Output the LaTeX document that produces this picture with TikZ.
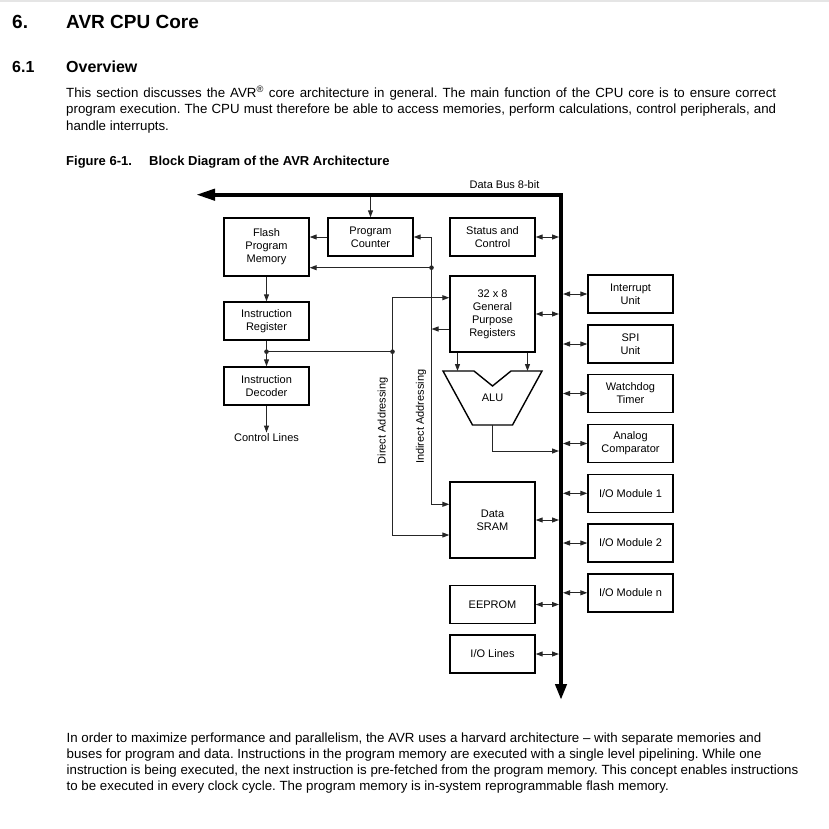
\documentclass[tikz,border=0pt]{standalone}
\usepackage{fontspec}
\setmainfont{Liberation Sans}
\usetikzlibrary{arrows.meta,calc}
\frenchspacing
\newcommand{\blkfont}{\fontsize{11}{13}\selectfont}
\newcommand{\txtfont}{\fontsize{13.3}{16.2}\selectfont}
\tikzset{
  blk/.style={draw,line width=1.4pt,minimum width=85pt,minimum height=38pt,inner sep=1pt,align=center,font=\blkfont},
  blk-m/.style={blk,minimum height=58pt},
  blk-l/.style={blk,minimum height=76pt},
  conn/.style={-{Triangle[length=7pt,width=5pt]},line width=1pt,black!85},
  twoway/.style={{Triangle[length=7pt,width=5pt]}-{Triangle[length=7pt,width=5pt]},line width=1pt,black!85},
  wire/.style={line width=1pt,black!85},
  bus/.style={line width=4pt,line join=miter,{Triangle[length=19pt,width=11pt]}-{Triangle[length=16pt,width=11pt]}},
  alushape/.style={line width=1.4pt,line join=miter},
  lbl/.style={font=\blkfont,inner sep=1pt},
  para/.style={anchor=base west,inner sep=0pt,align=left,font=\txtfont},
  head/.style={anchor=base west,inner sep=0pt,font=\bfseries\fontsize{19}{22}\selectfont},
  subhead/.style={anchor=base west,inner sep=0pt,font=\bfseries\fontsize{16}{19}\selectfont},
  capt/.style={anchor=base west,inner sep=0pt,font=\bfseries\fontsize{13}{15}\selectfont},
}

\begin{document}
\begin{tikzpicture}[x=1pt,y=-1pt]

  \fill[white] (0,0) rectangle (829,829);
  \useasboundingbox (0,0) rectangle (829,829);
  \draw[line width=2pt,black!10] (0,1) -- (829,1);

  % page text above the figure (a multi-line node sits on its last baseline)
  \node[head]    (chapno)  at (12,28.5)  {6.};
  \node[head]    (chapttl) at (66,28.5)  {AVR CPU Core};
  \node[subhead] (secno)   at (12,72.5)  {6.1};
  \node[subhead] (secttl)  at (66,72.5)  {Overview};
  \node[para]    (intro)   at (66,130.1) {\makebox[710pt][s]{This section discusses the AVR\textsuperscript{\textregistered} core architecture in general. The main function of the CPU core is to ensure correct}\\\makebox[710pt][s]{program execution. The CPU must therefore be able to access memories, perform calculations, control peripherals, and}\\handle interrupts.};
  \node[capt]    (fignum)  at (66,166)   {Figure 6-1.};
  \node[capt]    (figttl)  at (149,166)  {Block Diagram of the AVR Architecture};

  % DATA BUS
  \coordinate (busa) at (196,194.7);
  \coordinate (busc) at (561,194.7);
  \coordinate (busz) at (561,700);
  \coordinate (bust) at (0,196.7);
  \coordinate (busw) at (559,0);
  \coordinate (buse) at (563,0);
  \draw[bus] (busa) -- (busc) -- (busz);
  \node[lbl] (busname) at (504.5,185) {Data Bus 8-bit};

  % left column: program side
  \node[blk-m] (flash) at (266.5,247) {Flash\\Program\\Memory};
  \node[blk]   (pc)    at (370.5,237) {Program\\Counter};
  \node[blk]   (ir)    at (266.5,321) {Instruction\\Register};
  \node[blk]   (idec)  at (266.5,386) {Instruction\\Decoder};
  \node[lbl,anchor=north] (ctrl) at (266.5,432.5) {Control Lines};
  \draw[conn] (pc.north |- bust) -- (pc.north);
  \draw[conn] (pc.west) -- (pc.west -| flash.east);
  \draw[conn] (flash.south) -- (ir.north);
  \draw[conn] (ir.south) -- (idec.north);
  \draw[conn] (idec.south) -- (ctrl.north);

  % middle column: registers, ALU, memories
  \node[blk]   (sreg)    at (492.5,237)   {Status and\\Control};
  \node[blk-l] (gpr)     at (492.5,314)   {32 x 8\\General\\Purpose\\Registers};
  \node[blk-l] (sram)    at (492.5,520)   {Data\\SRAM};
  \node[blk]   (eeprom)  at (492.5,604.5) {EEPROM};
  \node[blk]   (iolines) at (492.5,654)   {I/O Lines};

  \draw[alushape] (443,371) -- (474,371) -- (492.5,386) -- (511,371) -- (542,371)
    -- (512.5,425) -- (472.5,425) -- cycle;
  \node[lbl] (alu) at (492.5,398) {ALU};
  \coordinate (alua) at (457.5,371);
  \coordinate (alub) at (527.5,371);
  \coordinate (aluo) at (492.5,425);
  \coordinate (aluc) at (492.5,451);
  \draw[conn] (alua |- gpr.south) -- (alua);
  \draw[conn] (alub |- gpr.south) -- (alub);
  \draw[conn] (aluo) -- (aluc) -- (aluc -| busw);

  % indirect addressing
  \coordinate (ia) at (431.5,504.3);
  \coordinate (fj) at (431.5,267.7);
  \coordinate (gj) at (431.5,329);
  \draw[twoway] (pc.east) -| (ia) -- (ia -| sram.west);
  \draw[conn] (fj) -- (fj -| flash.east);
  \draw[conn] (gj -| gpr.west) -- (gj);
  \fill[black!85] (fj) circle (2.3pt);
  \node[lbl,rotate=90] (indad) at (421,416.7) {Indirect Addressing};

  % direct addressing
  \coordinate (da)  at (392.5,297.7);
  \coordinate (db)  at (392.5,535);
  \coordinate (irj) at (266.5,351.7);
  \coordinate (dj)  at (392.5,351.7);
  \draw[twoway] (da -| gpr.west) -- (da) -- (db) -- (db -| sram.west);
  \draw[wire] (irj) -- (dj);
  \fill[black!85] (irj) circle (2.3pt);
  \fill[black!85] (dj) circle (2.3pt);
  \node[lbl,rotate=90] (dirad) at (382.7,420.8) {Direct Addressing};

  % right column: peripherals
  \node[blk] (intu)  at (630.5,294)   {Interrupt\\Unit};
  \node[blk] (spi)   at (630.5,344)   {SPI\\Unit};
  \node[blk] (wdt)   at (630.5,393.5) {Watchdog\\Timer};
  \node[blk] (acomp) at (630.5,443.5) {Analog\\Comparator};
  \node[blk] (iom1)  at (630.5,493.3) {I/O Module 1};
  \node[blk] (iom2)  at (630.5,543)   {I/O Module 2};
  \node[blk] (iomn)  at (630.5,592.8) {I/O Module n};

  % bus connections
  \draw[twoway] (sreg.east) -- (sreg.east -| busw);
  \draw[twoway] (gpr.east) -- (gpr.east -| busw);
  \draw[twoway] (sram.east) -- (sram.east -| busw);
  \draw[twoway] (eeprom.east) -- (eeprom.east -| busw);
  \draw[twoway] (iolines.east) -- (iolines.east -| busw);
  \draw[twoway] (intu.west -| buse) -- (intu.west);
  \draw[twoway] (spi.west -| buse) -- (spi.west);
  \draw[twoway] (wdt.west -| buse) -- (wdt.west);
  \draw[twoway] (acomp.west -| buse) -- (acomp.west);
  \draw[twoway] (iom1.west -| buse) -- (iom1.west);
  \draw[twoway] (iom2.west -| buse) -- (iom2.west);
  \draw[twoway] (iomn.west -| buse) -- (iomn.west);

  % page text below the figure
  \node[para] (harvard) at (66.5,790.6) {In order to maximize performance and parallelism, the AVR uses a harvard architecture \textendash{} with separate memories and\\buses for program and data. Instructions in the program memory are executed with a single level pipelining. While one\\instruction is being executed, the next instruction is pre-fetched from the program memory. This concept enables instructions\\to be executed in every clock cycle. The program memory is in-system reprogrammable flash memory.};

\end{tikzpicture}
\end{document}
